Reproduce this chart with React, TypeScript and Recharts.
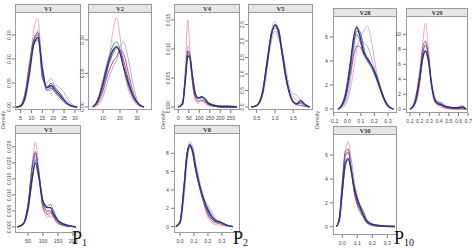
import React from "react";
import { LineChart, Line, XAxis, YAxis } from "recharts";

// series order in every panel: navy, blue, purple, magenta, pink, lavender
const COLORS = ["#2b2f73", "#3f78b5", "#6d3f8c", "#b5457e", "#e3a3c4", "#b9a3d6"];
const KEYS = ["n", "b", "p", "m", "k", "l"];

// ---- V1 ----
const v1X = [3, 5, 7, 9, 11, 13, 15, 17, 19, 21, 23, 25, 27, 29, 31];
const v1Navy = [0, 0.002, 0.02, 0.07, 0.13, 0.145, 0.08, 0.04, 0.045, 0.035, 0.025, 0.015, 0.006, 0.002, 0];
const v1Blue = [0, 0.003, 0.025, 0.075, 0.13, 0.14, 0.075, 0.035, 0.04, 0.03, 0.02, 0.012, 0.005, 0.001, 0];
const v1Purple = [0, 0.002, 0.02, 0.08, 0.14, 0.155, 0.07, 0.04, 0.05, 0.04, 0.03, 0.015, 0.006, 0.002, 0];
const v1Magenta = [0, 0.004, 0.03, 0.09, 0.14, 0.15, 0.06, 0.045, 0.04, 0.03, 0.02, 0.01, 0.004, 0.001, 0];
const v1Pink = [0, 0.001, 0.015, 0.07, 0.16, 0.185, 0.06, 0.05, 0.06, 0.04, 0.03, 0.02, 0.01, 0.003, 0];
const v1Lav = [0, 0.002, 0.015, 0.06, 0.13, 0.16, 0.09, 0.035, 0.035, 0.045, 0.04, 0.03, 0.015, 0.005, 0];

// ---- V2 ----
const v2X = [4, 7, 10, 13, 16, 18, 20, 22, 25, 28, 31, 34];
const v2Navy = [0, 0.01, 0.035, 0.065, 0.085, 0.09, 0.08, 0.06, 0.035, 0.015, 0.004, 0];
const v2Blue = [0, 0.012, 0.04, 0.07, 0.092, 0.097, 0.085, 0.06, 0.03, 0.012, 0.003, 0];
const v2Purple = [0, 0.008, 0.03, 0.06, 0.08, 0.088, 0.085, 0.07, 0.04, 0.015, 0.004, 0];
const v2Magenta = [0, 0.006, 0.025, 0.05, 0.068, 0.075, 0.085, 0.08, 0.05, 0.02, 0.005, 0];
const v2Pink = [0, 0.004, 0.02, 0.06, 0.115, 0.133, 0.105, 0.06, 0.025, 0.008, 0.002, 0];
const v2Lav = [0, 0.003, 0.015, 0.04, 0.06, 0.07, 0.088, 0.097, 0.07, 0.03, 0.006, 0];

// ---- V3 ----
const v3X = [15, 35, 50, 65, 75, 85, 100, 115, 125, 135, 150, 170, 190, 210];
const v3Navy = [0, 0.001, 0.006, 0.016, 0.02, 0.016, 0.008, 0.006, 0.006, 0.004, 0.002, 0.0008, 0.0003, 0];
const v3Blue = [0, 0.001, 0.005, 0.015, 0.021, 0.017, 0.008, 0.0065, 0.007, 0.005, 0.002, 0.001, 0.0004, 0];
const v3Purple = [0, 0.0012, 0.007, 0.019, 0.023, 0.018, 0.007, 0.005, 0.005, 0.0035, 0.0015, 0.0005, 0.0002, 0];
const v3Magenta = [0, 0.0012, 0.007, 0.02, 0.0235, 0.017, 0.006, 0.004, 0.0045, 0.003, 0.001, 0.0004, 0.0001, 0];
const v3Pink = [0, 0.001, 0.006, 0.02, 0.0265, 0.019, 0.006, 0.003, 0.004, 0.005, 0.002, 0.0006, 0.0001, 0];
const v3Lav = [0, 0.0008, 0.005, 0.016, 0.022, 0.018, 0.008, 0.004, 0.003, 0.0035, 0.002, 0.0008, 0.0002, 0];

// ---- V4 ----
const v4X = [0, 20, 35, 45, 55, 65, 80, 95, 110, 125, 140, 160, 180, 210, 240, 280];
const v4Navy = [0, 0.0005, 0.005, 0.0088, 0.0085, 0.006, 0.0025, 0.0016, 0.0018, 0.0015, 0.0008, 0.0004, 0.0002, 0.0001, 0.0001, 0];
const v4Blue = [0, 0.0006, 0.0055, 0.009, 0.0088, 0.006, 0.0025, 0.0015, 0.0017, 0.0016, 0.0009, 0.0005, 0.0003, 0.0002, 0.0002, 0.0001];
const v4Purple = [0, 0.0007, 0.006, 0.0095, 0.009, 0.0055, 0.002, 0.0014, 0.0016, 0.0012, 0.0006, 0.0003, 0.0001, 0, 0, 0];
const v4Magenta = [0, 0.0008, 0.006, 0.0098, 0.0085, 0.005, 0.0018, 0.001, 0.0012, 0.001, 0.0005, 0.0002, 0.0001, 0, 0, 0];
const v4Pink = [0, 0.0004, 0.008, 0.015, 0.01, 0.005, 0.0012, 0.0006, 0.001, 0.0008, 0.0003, 0.0005, 0.0001, 0, 0, 0];
const v4Lav = [0, 0.0005, 0.006, 0.0105, 0.0095, 0.0065, 0.002, 0.0008, 0.0012, 0.0009, 0.0004, 0.0002, 0.0001, 0, 0, 0];

// ---- V5 ----
const v5X = [0.35, 0.5, 0.65, 0.8, 0.9, 1.0, 1.1, 1.2, 1.3, 1.4, 1.5, 1.6, 1.7, 1.8, 1.95];
const v5Navy = [0, 0.05, 0.4, 1.5, 2.2, 2.5, 2.3, 1.6, 0.9, 0.4, 0.15, 0.1, 0.2, 0.1, 0];
const v5Blue = [0, 0.06, 0.45, 1.55, 2.25, 2.45, 2.2, 1.55, 0.85, 0.4, 0.15, 0.08, 0.12, 0.06, 0];
const v5Purple = [0, 0.04, 0.35, 1.4, 2.15, 2.48, 2.35, 1.7, 0.95, 0.45, 0.18, 0.1, 0.15, 0.08, 0];
const v5Magenta = [0, 0.05, 0.4, 1.45, 2.2, 2.4, 2.2, 1.6, 0.9, 0.4, 0.14, 0.06, 0.05, 0.02, 0];
const v5Pink = [0, 0.03, 0.3, 1.3, 2.3, 2.6, 2.2, 1.5, 0.8, 0.5, 0.3, 0.2, 0.1, 0.04, 0];
const v5Lav = [0, 0.04, 0.35, 1.35, 2.0, 2.3, 2.05, 1.7, 1.1, 0.6, 0.4, 0.35, 0.2, 0.06, 0];

// ---- V8 ----
const v8X = [-0.03, 0, 0.03, 0.05, 0.07, 0.09, 0.11, 0.14, 0.17, 0.2, 0.23, 0.26, 0.29, 0.33, 0.38];
const v8Navy = [0, 0.5, 4.5, 7.8, 8.9, 8.2, 6.5, 4.5, 3, 1.8, 1, 0.6, 0.5, 0.2, 0];
const v8Blue = [0, 0.6, 4.8, 8, 8.7, 8, 6.3, 4.2, 2.8, 2, 1.2, 0.7, 0.5, 0.2, 0];
const v8Purple = [0, 0.4, 4.2, 7.6, 8.8, 8.4, 6.8, 4.6, 2.8, 1.5, 0.8, 0.5, 0.4, 0.15, 0];
const v8Magenta = [0, 0.5, 4.6, 8, 9.0, 8.2, 6.4, 4.3, 2.6, 1.3, 0.6, 0.4, 0.3, 0.1, 0];
const v8Pink = [0, 0.3, 3.5, 7.2, 9.3, 8.7, 6.8, 4.4, 2.5, 1.0, 0.4, 0.2, 0.15, 0.05, 0];
const v8Lav = [0, 0.3, 3.5, 7, 8.6, 8.7, 7.2, 5, 3.2, 2.3, 1.5, 0.8, 0.4, 0.15, 0];

// ---- V28 ----
const v28X = [-0.07, -0.04, -0.01, 0.02, 0.05, 0.07, 0.09, 0.12, 0.15, 0.18, 0.21, 0.24, 0.27, 0.3, 0.34];
const v28Navy = [0, 0.3, 1.3, 3.5, 6.2, 6.8, 6.2, 4.8, 4.2, 3.6, 2.8, 1.8, 0.9, 0.3, 0];
const v28Blue = [0, 0.2, 1.0, 3.0, 5.5, 6.5, 6.5, 5.2, 4.0, 3.4, 2.6, 1.7, 0.8, 0.3, 0];
const v28Purple = [0, 0.4, 1.6, 3.8, 5.8, 6.2, 5.8, 4.6, 4.0, 3.6, 3.0, 2.0, 1.0, 0.3, 0];
const v28Magenta = [0, 0.3, 1.2, 2.8, 4.6, 5.25, 5.2, 4.6, 4.0, 3.6, 2.8, 1.8, 0.8, 0.2, 0];
const v28Pink = [0, 0.1, 0.4, 1.5, 3.5, 5.0, 5.8, 6.5, 6.9, 5.5, 3.5, 1.8, 0.7, 0.2, 0];
const v28Lav = [0, 0.1, 0.6, 2.2, 5.0, 7.0, 6.5, 5.5, 5.2, 4.2, 3.0, 1.8, 0.8, 0.2, 0];

// ---- V29 ----
const v29X = [0.1, 0.15, 0.2, 0.23, 0.26, 0.29, 0.32, 0.35, 0.38, 0.42, 0.46, 0.5, 0.55, 0.6, 0.64, 0.68];
const v29Navy = [0, 0.8, 4, 6.8, 7.8, 6.5, 3.5, 1.5, 0.8, 0.6, 0.4, 0.3, 0.2, 0.2, 0.3, 0];
const v29Blue = [0, 0.7, 3.8, 6.6, 7.6, 6.3, 3.4, 1.6, 1.0, 0.9, 0.5, 0.3, 0.2, 0.3, 0.45, 0];
const v29Purple = [0, 1.0, 4.5, 7.5, 8.5, 7, 3.6, 1.5, 0.9, 0.7, 0.3, 0.2, 0.1, 0.1, 0.2, 0];
const v29Magenta = [0, 1.2, 5, 8.2, 9.1, 7.2, 3.5, 1.3, 0.7, 0.5, 0.2, 0.1, 0.05, 0.05, 0.05, 0];
const v29Pink = [0, 0.5, 3.5, 8.5, 11.5, 8, 3, 1.0, 0.5, 0.3, 0.1, 0.05, 0, 0, 0, 0];
const v29Lav = [0, 0.6, 3.6, 7, 8.8, 7.5, 4, 1.8, 1.2, 0.8, 0.4, 0.2, 0.1, 0.05, 0.05, 0];

// ---- V30 ----
const v30X = [-0.04, -0.02, 0, 0.02, 0.04, 0.06, 0.08, 0.1, 0.12, 0.14, 0.16, 0.2, 0.25, 0.3, 0.35];
const v30Navy = [0, 0.6, 3, 5.3, 5.7, 4.6, 3.2, 2.3, 1.6, 1.0, 0.5, 0.2, 0.1, 0.05, 0.03];
const v30Blue = [0, 0.5, 2.8, 5.0, 5.6, 4.8, 3.4, 2.4, 1.8, 1.3, 0.7, 0.25, 0.12, 0.08, 0.06];
const v30Purple = [0, 0.7, 3.5, 6.0, 6.2, 4.8, 3.0, 2.0, 1.4, 0.9, 0.4, 0.15, 0.05, 0.02, 0];
const v30Magenta = [0, 0.8, 3.8, 6.3, 6.5, 4.7, 2.8, 1.8, 1.2, 0.8, 0.35, 0.1, 0.03, 0.01, 0];
const v30Pink = [0, 0.4, 2.8, 6.2, 7.1, 5.4, 3.2, 1.9, 1.5, 1.3, 0.6, 0.15, 0.04, 0.01, 0];
const v30Lav = [0, 0.5, 3.0, 5.6, 6.4, 5.6, 3.8, 2.6, 1.7, 1.1, 0.6, 0.2, 0.05, 0.02, 0];

const rows = (xs: number[], series: number[][]) =>
  xs.map((x, i) => {
    const r: any = { x };
    series.forEach((s, j) => (r[KEYS[j]] = s[i]));
    return r;
  });

const TICK_FONT = "'Liberation Sans', Arial, sans-serif";

function XTick(props: any) {
  const { x, y, payload, dec } = props;
  return (
    <text x={x} y={y} dy={4.5} textAnchor="middle" fontSize={5.2} fill="#444" fontFamily={TICK_FONT}>
      {Number(payload.value).toFixed(dec)}
    </text>
  );
}

function YTick(props: any) {
  const { x, y, payload, dec, rot } = props;
  const label = Number(payload.value).toFixed(dec);
  if (rot) {
    return (
      <text x={x + 1} y={y} transform={`rotate(-90 ${x + 1} ${y})`} textAnchor="middle" fontSize={5} fill="#444" fontFamily={TICK_FONT}>
        {label}
      </text>
    );
  }
  return (
    <text x={x} y={y} dy={2} textAnchor="end" fontSize={5.2} fill="#444" fontFamily={TICK_FONT}>
      {label}
    </text>
  );
}

interface PanelProps {
  label: string;
  left: number;
  top: number;
  w: number;
  h: number;
  data: any[];
  xDomain: [number, number];
  yDomain: [number, number];
  xTicks: number[];
  yTicks: number[];
  xDec: number;
  yDec: number;
  rotY?: boolean;
}

function Panel({ label, left, top, w, h, data, xDomain, yDomain, xTicks, yTicks, xDec, yDec, rotY }: PanelProps) {
  const hh = 9;
  const yW = 14;
  const xH = 14;
  const padR = 6;
  return (
    <>
      <div
        style={{
          position: "absolute", left, top, width: w, height: hh, boxSizing: "border-box",
          background: "#e6e6e6", border: "1px solid #9a9a9a", textAlign: "center",
          fontFamily: "'Liberation Serif', serif", fontWeight: "bold", fontSize: 6.5, lineHeight: `${hh - 2}px`, color: "#333",
        }}
      >
        {label}
      </div>
      <div
        style={{
          position: "absolute", left, top: top + hh - 1, width: w, height: h + 1, boxSizing: "border-box",
          border: "1px solid #9a9a9a",
        }}
      />
      <div style={{ position: "absolute", left: left - yW, top: top + hh }}>
        <LineChart width={w + yW + padR} height={h + xH} data={data} margin={{ top: 0, right: padR, bottom: 0, left: 0 }}>
          <XAxis
            type="number" dataKey="x" domain={xDomain} ticks={xTicks} interval={0} allowDataOverflow
            axisLine={false} tickLine={{ stroke: "#777" }} tickSize={3} height={xH}
            tick={(p: any) => <XTick {...p} dec={xDec} />}
          />
          <YAxis
            type="number" domain={yDomain} ticks={yTicks} interval={0} allowDataOverflow
            axisLine={false} tickLine={{ stroke: "#777" }} tickSize={3} width={yW}
            tick={(p: any) => <YTick {...p} dec={yDec} rot={rotY} />}
          />
          {[5, 4, 3, 2, 1, 0].map((j) => (
            <Line
              key={KEYS[j]} type="monotone" dataKey={KEYS[j]} stroke={COLORS[j]}
              strokeWidth={j === 0 ? 1.3 : 0.9} dot={false} isAnimationActive={false}
            />
          ))}
        </LineChart>
      </div>
    </>
  );
}

export default function App() {
  return (
    <div style={{ position: "absolute", left: 0, top: 0, width: 474, height: 248, background: "#fff", overflow: "hidden" }}>
      {/* P1 */}
      <Panel label="V1" left={15} top={4} w={66} h={97}
        data={rows(v1X, [v1Navy, v1Blue, v1Purple, v1Magenta, v1Pink, v1Lav])}
        xDomain={[2.4, 32.8]} yDomain={[-0.006, 0.196]} xTicks={[5, 10, 15, 20, 25, 30]} yTicks={[0, 0.05, 0.1, 0.15]}
        xDec={0} yDec={2} rotY />
      <Panel label="V2" left={88} top={4} w={64} h={97}
        data={rows(v2X, [v2Navy, v2Blue, v2Purple, v2Magenta, v2Pink, v2Lav])}
        xDomain={[1.2, 38.8]} yDomain={[-0.0045, 0.14]} xTicks={[10, 20, 30]} yTicks={[0, 0.05, 0.1]}
        xDec={0} yDec={2} rotY />
      <Panel label="V3" left={15} top={125} w={66} h={99}
        data={rows(v3X, [v3Navy, v3Blue, v3Purple, v3Magenta, v3Pink, v3Lav])}
        xDomain={[6.7, 226.7]} yDomain={[-0.0019, 0.029]} xTicks={[50, 100, 150, 200]}
        yTicks={[0, 0.005, 0.01, 0.015, 0.02, 0.025]}
        xDec={0} yDec={3} rotY />
      {/* P2 */}
      <Panel label="V4" left={174} top={4} w={66} h={97}
        data={rows(v4X, [v4Navy, v4Blue, v4Purple, v4Magenta, v4Pink, v4Lav])}
        xDomain={[-20.5, 294]} yDomain={[-0.0005, 0.0162]} xTicks={[0, 50, 100, 150, 200, 250]}
        yTicks={[0, 0.005, 0.01, 0.015]}
        xDec={0} yDec={3} rotY />
      <Panel label="V5" left={248} top={4} w={65} h={97}
        data={rows(v5X, [v5Navy, v5Blue, v5Purple, v5Magenta, v5Pink, v5Lav])}
        xDomain={[0.26, 2.04]} yDomain={[-0.09, 2.85]} xTicks={[0.5, 1.0, 1.5]}
        yTicks={[0, 0.5, 1, 1.5, 2, 2.5]}
        xDec={1} yDec={1} rotY />
      <Panel label="V8" left={174} top={125} w={66} h={99}
        data={rows(v8X, [v8Navy, v8Blue, v8Purple, v8Magenta, v8Pink, v8Lav])}
        xDomain={[-0.043, 0.43]} yDomain={[-0.7, 10.1]} xTicks={[0, 0.1, 0.2, 0.3]}
        yTicks={[0, 2, 4, 6, 8]}
        xDec={1} yDec={0} />
      {/* P10 */}
      <Panel label="V28" left={333} top={8} w={64} h={96}
        data={rows(v28X, [v28Navy, v28Blue, v28Purple, v28Magenta, v28Pink, v28Lav])}
        xDomain={[-0.106, 0.367]} yDomain={[-0.33, 7.67]} xTicks={[-0.1, 0, 0.1, 0.2, 0.3]}
        yTicks={[0, 2, 4, 6]}
        xDec={1} yDec={0} />
      <Panel label="V29" left={406} top={8} w={62} h={96}
        data={rows(v29X, [v29Navy, v29Blue, v29Purple, v29Magenta, v29Pink, v29Lav])}
        xDomain={[0.059, 0.698]} yDomain={[-0.5, 12.3]} xTicks={[0.1, 0.2, 0.3, 0.4, 0.5, 0.6, 0.7]}
        yTicks={[0, 2, 4, 6, 8, 10]}
        xDec={1} yDec={0} />
      <Panel label="V30" left={333} top={126} w={64} h={100}
        data={rows(v30X, [v30Navy, v30Blue, v30Purple, v30Magenta, v30Pink, v30Lav])}
        xDomain={[-0.062, 0.365]} yDomain={[-0.69, 7.67]} xTicks={[0, 0.1, 0.2, 0.3]}
        yTicks={[0, 2, 4, 6]}
        xDec={1} yDec={0} />

      <svg width={474} height={248} style={{ position: "absolute", left: 0, top: 0, pointerEvents: "none" }}>
        {[5, 165, 319].map((x) => (
          <text key={x} x={x} y={120} transform={`rotate(-90 ${x} 120)`} textAnchor="middle"
            fontSize={5.5} fill="#555" fontFamily={TICK_FONT}>Density</text>
        ))}
        <g fontFamily="'Liberation Serif', 'Times New Roman', serif" fill="#111">
          <text x={72} y={244} fontSize={18}>P<tspan fontSize={10} dy={2}>1</tspan></text>
          <text x={233} y={244} fontSize={18}>P<tspan fontSize={10} dy={2}>2</tspan></text>
          <text x={394} y={244} fontSize={18}>P<tspan fontSize={10} dy={2}>10</tspan></text>
        </g>
      </svg>
    </div>
  );
}
